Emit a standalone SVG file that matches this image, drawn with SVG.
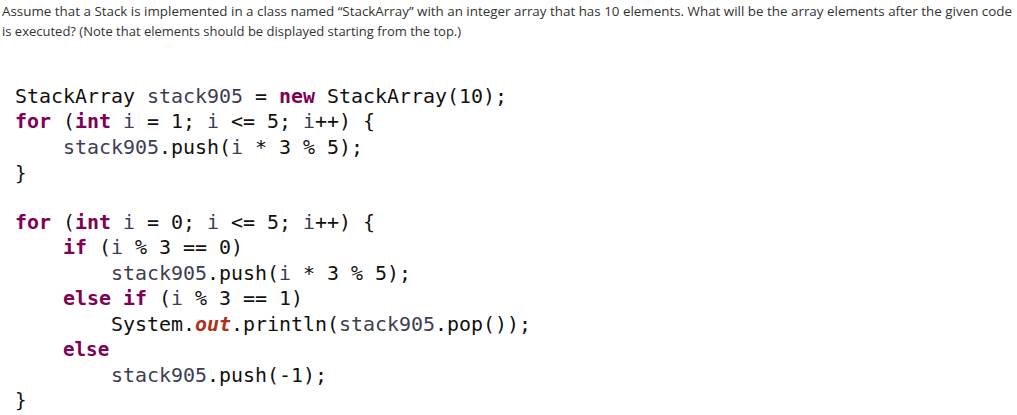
<svg xmlns="http://www.w3.org/2000/svg" width="1017" height="415" viewBox="0 0 1017 415">
<style>
.h{font-family:"Open Sans","Liberation Sans",sans-serif;font-size:13px;fill:#333}
.c{font-family:"DejaVu Sans Mono","Liberation Mono",monospace;font-size:19.2px;fill:#111;white-space:pre}
.k{fill:#7f0055;font-weight:bold}
.v{fill:#3d3d55}
.o{fill:#b0301a;font-weight:bold;font-style:italic}
</style>
<rect width="1017" height="415" fill="#fff"/>
<text class="h" x="2" y="16" textLength="1010" lengthAdjust="spacingAndGlyphs">Assume that a Stack is implemented in a class named “StackArray” with an integer array that has 10 elements. What will be the array elements after the given code</text>
<text class="h" x="2" y="36">is executed? (Note that elements should be displayed starting from the top.)</text>
<g class="c">
<text x="15" y="103" textLength="492" lengthAdjust="spacingAndGlyphs">StackArray <tspan class="v">stack905</tspan> = <tspan class="k">new</tspan> StackArray(10);</text>
<text x="15" y="128" textLength="360" lengthAdjust="spacingAndGlyphs"><tspan class="k">for</tspan> (<tspan class="k">int</tspan> <tspan class="v">i</tspan> = 1; <tspan class="v">i</tspan> &lt;= 5; <tspan class="v">i</tspan>++) {</text>
<text x="63" y="154" textLength="300" lengthAdjust="spacingAndGlyphs"><tspan class="v">stack905</tspan>.push(<tspan class="v">i</tspan> * 3 % 5);</text>
<text x="15" y="180">}</text>
<text x="15" y="229" textLength="360" lengthAdjust="spacingAndGlyphs"><tspan class="k">for</tspan> (<tspan class="k">int</tspan> <tspan class="v">i</tspan> = 0; <tspan class="v">i</tspan> &lt;= 5; <tspan class="v">i</tspan>++) {</text>
<text x="63" y="254" textLength="180" lengthAdjust="spacingAndGlyphs"><tspan class="k">if</tspan> (<tspan class="v">i</tspan> % 3 == 0)</text>
<text x="111" y="280" textLength="300" lengthAdjust="spacingAndGlyphs"><tspan class="v">stack905</tspan>.push(<tspan class="v">i</tspan> * 3 % 5);</text>
<text x="63" y="305" textLength="240" lengthAdjust="spacingAndGlyphs"><tspan class="k">else if</tspan> (<tspan class="v">i</tspan> % 3 == 1)</text>
<text x="111" y="331" textLength="420" lengthAdjust="spacingAndGlyphs">System.<tspan class="o">out</tspan>.println(<tspan class="v">stack905</tspan>.pop());</text>
<text x="63" y="356" class="k">else</text>
<text x="111" y="382" textLength="216" lengthAdjust="spacingAndGlyphs"><tspan class="v">stack905</tspan>.push(-1);</text>
<text x="15" y="407">}</text>
</g>
</svg>
